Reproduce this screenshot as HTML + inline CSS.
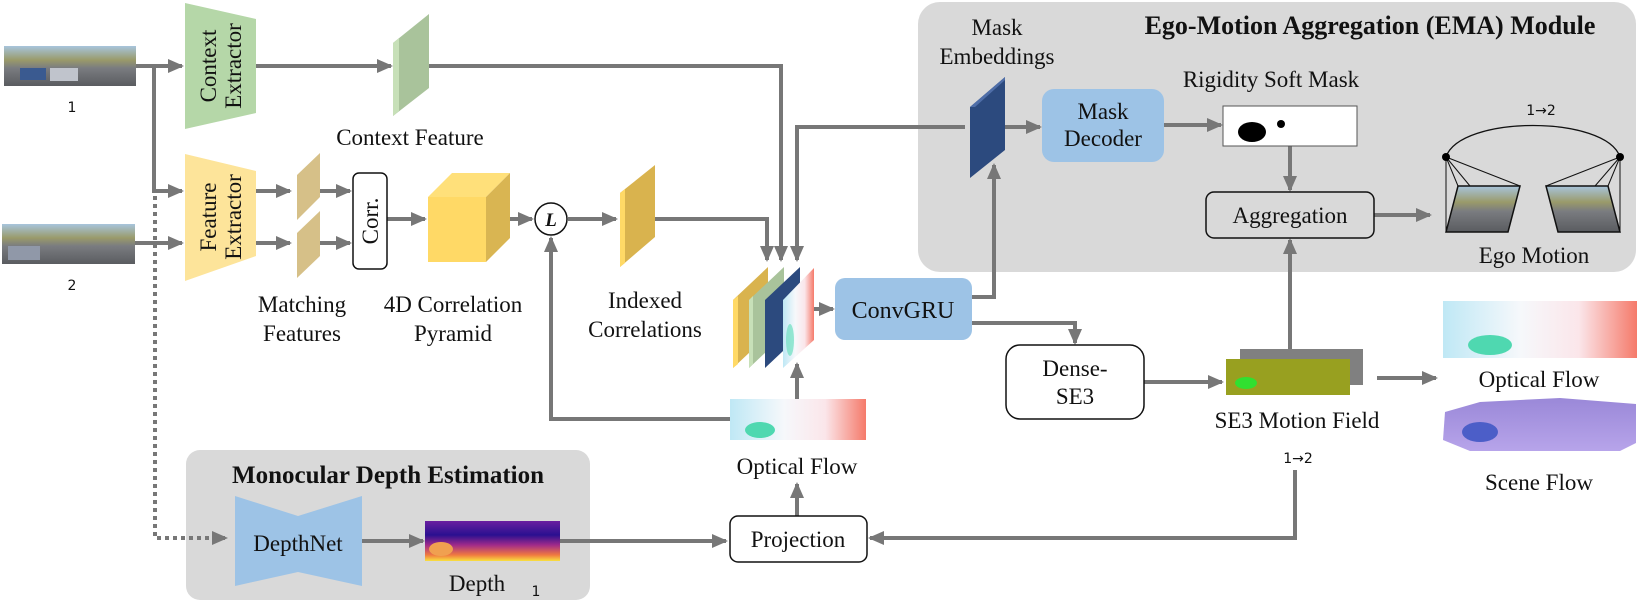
<!DOCTYPE html>
<html><head><meta charset="utf-8"><style>
html,body{margin:0;padding:0;background:#fff;}
svg{display:block;}
text{font-family:"Liberation Serif",serif;fill:#111;}
.s{font-family:"DejaVu Sans","Liberation Sans",sans-serif;}
</style></head><body>
<svg width="1637" height="602" viewBox="0 0 1637 602" xmlns="http://www.w3.org/2000/svg">
<defs>
<marker id="b" markerWidth="16" markerHeight="14" refX="14" refY="7" orient="auto" markerUnits="userSpaceOnUse">
<path d="M0,0 L16,7 L0,14 z" fill="#777"/></marker>
<linearGradient id="street" x1="0" y1="0" x2="0" y2="1">
<stop offset="0" stop-color="#a8c4dc"/><stop offset="0.35" stop-color="#9a9a6a"/><stop offset="0.55" stop-color="#7a7c80"/><stop offset="1" stop-color="#5a5c60"/></linearGradient>
<linearGradient id="flow" x1="0" y1="0" x2="1" y2="0">
<stop offset="0" stop-color="#bfe8f5"/><stop offset="0.4" stop-color="#f6f8fb"/><stop offset="0.7" stop-color="#fbe6ea"/><stop offset="1" stop-color="#f57a6a"/></linearGradient>
<linearGradient id="depth" x1="0" y1="0" x2="0" y2="1">
<stop offset="0" stop-color="#6a1fa0"/><stop offset="0.35" stop-color="#2a1090"/><stop offset="0.6" stop-color="#a02a8a"/><stop offset="0.85" stop-color="#f07a40"/><stop offset="1" stop-color="#f8e040"/></linearGradient>
<linearGradient id="scene" x1="0" y1="0" x2="0" y2="1">
<stop offset="0" stop-color="#9a88d8"/><stop offset="1" stop-color="#b7a4ea"/></linearGradient>
</defs>

<rect x="918" y="2" width="718" height="270" rx="22" fill="#d9d9d9"/>
<rect x="186" y="450" width="404" height="150" rx="14" fill="#d9d9d9"/>

<rect x="4" y="46" width="132" height="40" fill="url(#street)"/>
<rect x="20" y="68" width="26" height="12" fill="#3a5a90"/><rect x="50" y="68" width="28" height="13" fill="#c0c4cc"/>
<text class="s" x="72" y="112" font-size="14" text-anchor="middle">1</text>
<rect x="2" y="224" width="133" height="40" fill="url(#street)"/>
<rect x="8" y="246" width="32" height="14" fill="#9098a8"/>
<text class="s" x="72" y="290" font-size="14" text-anchor="middle">2</text>

<g stroke="#777" stroke-width="4" fill="none">
<polyline points="136,66 182,66" marker-end="url(#b)"/>
<polyline points="154,66 154,191 182,191" marker-end="url(#b)"/>
<polyline points="135,243 182,243" marker-end="url(#b)"/>
<polyline points="155,196 155,538 226,538" stroke-dasharray="4,4" marker-end="url(#b)"/>
</g>

<polygon points="185,3 256,19 256,113 185,129" fill="#b5d7a8"/>
<text font-size="23" transform="translate(220,66) rotate(-90)" text-anchor="middle"><tspan x="0" y="-4">Context</tspan><tspan x="0" y="21">Extractor</tspan></text>
<polygon points="185,154 256,171 256,256 185,281" fill="#fde49a"/>
<text font-size="23" transform="translate(220,217) rotate(-90)" text-anchor="middle"><tspan x="0" y="-4">Feature</tspan><tspan x="0" y="21">Extractor</tspan></text>

<g stroke="#777" stroke-width="4" fill="none">
<polyline points="256,66 391,66" marker-end="url(#b)"/>
<polyline points="423,66 781,66 781,260" marker-end="url(#b)"/>
</g>
<polygon points="393,43 429,14 429,88 393,116" fill="#a9c39b"/>
<polygon points="393,43 399,38 399,111 393,116" fill="#c7e0b8"/>
<text font-size="23" x="410" y="145" text-anchor="middle">Context Feature</text>

<g stroke="#777" stroke-width="4" fill="none">
<polyline points="256,191 290,191" marker-end="url(#b)"/>
<polyline points="256,243 290,243" marker-end="url(#b)"/>
<polyline points="320,191 350,191" marker-end="url(#b)"/>
<polyline points="320,243 350,243" marker-end="url(#b)"/>
<polyline points="387,219 425,219" marker-end="url(#b)"/>
<polyline points="510,219 532,219" marker-end="url(#b)"/>
<polyline points="568,219 616,219" marker-end="url(#b)"/>
<polyline points="652,219 767,219 767,260" marker-end="url(#b)"/>
<polyline points="730,419 551,419 551,238" marker-end="url(#b)"/>
</g>
<polygon points="297,175 320,153 320,197 297,220" fill="#d6c088"/>
<polygon points="297,233 320,211 320,256 297,278" fill="#d6c088"/>
<text font-size="23" x="302" y="312" text-anchor="middle">Matching</text>
<text font-size="23" x="302" y="341" text-anchor="middle">Features</text>
<rect x="353" y="173" width="34" height="96" rx="6" fill="#fff" stroke="#111" stroke-width="1.5"/>
<text font-size="23" transform="translate(378,221) rotate(-90)" text-anchor="middle">Corr.</text>

<polygon points="428,197 452,173 510,173 486,197" fill="#ffe07a"/>
<polygon points="486,197 510,173 510,238 486,262" fill="#d9b552"/>
<rect x="428" y="197" width="58" height="65" fill="#ffd966"/>
<text font-size="23" x="453" y="312" text-anchor="middle">4D Correlation</text>
<text font-size="23" x="453" y="341" text-anchor="middle">Pyramid</text>

<circle cx="551" cy="219" r="16" fill="#fff" stroke="#111" stroke-width="1.5"/>
<text x="551" y="226" font-size="19" font-weight="bold" font-style="italic" text-anchor="middle">L</text>

<polygon points="620,193 655,165 655,237 620,267" fill="#d9b34e"/>
<polygon points="620,193 625,189 625,263 620,267" fill="#ffd966"/>
<text font-size="23" x="645" y="308" text-anchor="middle">Indexed</text>
<text font-size="23" x="645" y="337" text-anchor="middle">Correlations</text>

<polygon points="733,300 768,267 768,335 733,368" fill="#d9b34e"/>
<polygon points="733,300 738,296 738,364 733,368" fill="#ffd966"/>
<polygon points="749,300 784,267 784,335 749,368" fill="#a9c39b"/>
<polygon points="749,300 753,296 753,364 749,368" fill="#c7e0b8"/>
<polygon points="765,300 800,267 800,335 765,368" fill="#2c4a7e"/>
<polygon points="783,300 814,268 814,340 783,368" fill="url(#flow)"/>
<ellipse cx="790" cy="340" rx="4" ry="16" fill="#6de0c0" opacity="0.7"/>

<g stroke="#777" stroke-width="4" fill="none">
<polyline points="965,127 797,127 797,260" marker-end="url(#b)"/>
<polyline points="814,309 833,309" marker-end="url(#b)"/>
<polyline points="797,399 797,364" marker-end="url(#b)"/>
<polyline points="972,297 994,297 994,165" marker-end="url(#b)"/>
<polyline points="972,323 1075,323 1075,343" marker-end="url(#b)"/>
<polyline points="1005,127 1040,127" marker-end="url(#b)"/>
<polyline points="1164,125 1221,125" marker-end="url(#b)"/>
<polyline points="1290,146 1290,190" marker-end="url(#b)"/>
<polyline points="1290,350 1290,240" marker-end="url(#b)"/>
<polyline points="1374,215 1430,215" marker-end="url(#b)"/>
<polyline points="1144,382 1222,382" marker-end="url(#b)"/>
<polyline points="1377,378 1436,378" marker-end="url(#b)"/>
<polyline points="362,541 423,541" marker-end="url(#b)"/>
<polyline points="560,541 726,541" marker-end="url(#b)"/>
<polyline points="797,516 797,484" marker-end="url(#b)"/>
<polyline points="1295,470 1295,538 870,538" marker-end="url(#b)"/>
</g>

<rect x="835" y="278" width="137" height="62" rx="10" fill="#9dc3e6"/>
<text font-size="24" x="903" y="318" text-anchor="middle">ConvGRU</text>

<rect x="730" y="399" width="136" height="41" fill="url(#flow)"/>
<ellipse cx="760" cy="430" rx="15" ry="8" fill="#4fd8b0"/>
<text font-size="23" x="797" y="474" text-anchor="middle">Optical Flow</text>

<polygon points="970,107 1005,77 1005,150 970,178" fill="#2c4a7e"/>
<polygon points="970,107 1005,77 1005,80 975,107" fill="#4f6ea8"/>
<text font-size="23" x="997" y="35" text-anchor="middle">Mask</text>
<text font-size="23" x="997" y="64" text-anchor="middle">Embeddings</text>
<text font-size="26" font-weight="bold" x="1370" y="34" text-anchor="middle">Ego-Motion Aggregation (EMA) Module</text>

<rect x="1042" y="89" width="122" height="73" rx="12" fill="#9dc3e6"/>
<text font-size="23" x="1103" y="119" text-anchor="middle">Mask</text>
<text font-size="23" x="1103" y="146" text-anchor="middle">Decoder</text>

<text font-size="23" x="1271" y="87" text-anchor="middle">Rigidity Soft Mask</text>
<rect x="1223" y="106" width="134" height="40" fill="#fff" stroke="#555" stroke-width="1"/>
<ellipse cx="1252" cy="132" rx="14" ry="10" fill="#000"/>
<circle cx="1281" cy="124" r="4" fill="#000"/>

<rect x="1206" y="192" width="168" height="46" rx="8" fill="none" stroke="#111" stroke-width="1.5"/>
<text font-size="23" x="1290" y="223" text-anchor="middle">Aggregation</text>

<path d="M1446,157 C1460,115 1606,115 1620,157" fill="none" stroke="#111" stroke-width="1.3"/>
<text class="s" font-size="14" x="1541" y="115" text-anchor="middle">1→2</text>
<g stroke="#111" stroke-width="1">
<line x1="1446" y1="157" x2="1446" y2="232"/><line x1="1446" y1="157" x2="1458" y2="186"/><line x1="1446" y1="157" x2="1470" y2="186"/><line x1="1446" y1="157" x2="1520" y2="186"/>
<line x1="1620" y1="157" x2="1620" y2="232"/><line x1="1620" y1="157" x2="1608" y2="186"/><line x1="1620" y1="157" x2="1595" y2="186"/><line x1="1620" y1="157" x2="1546" y2="186"/>
</g>
<polygon points="1458,186 1520,186 1508,232 1446,232" fill="url(#street)" stroke="#111" stroke-width="1.5"/>
<polygon points="1546,186 1608,186 1620,232 1558,232" fill="url(#street)" stroke="#111" stroke-width="1.5"/>
<circle cx="1446" cy="157" r="4" fill="#000"/><circle cx="1620" cy="157" r="4" fill="#000"/>
<text font-size="23" x="1534" y="263" text-anchor="middle">Ego Motion</text>

<rect x="1006" y="345" width="138" height="74" rx="14" fill="#fff" stroke="#111" stroke-width="1.5"/>
<text font-size="23" x="1075" y="376" text-anchor="middle">Dense-</text>
<text font-size="23" x="1075" y="404" text-anchor="middle">SE3</text>

<rect x="1240" y="349" width="123" height="36" fill="#808080"/>
<rect x="1226" y="359" width="124" height="36" fill="#98a020"/>
<ellipse cx="1246" cy="383" rx="11" ry="6" fill="#30e030"/>
<text font-size="23" x="1297" y="428" text-anchor="middle">SE3 Motion Field</text>
<text class="s" font-size="14" x="1298" y="463" text-anchor="middle">1→2</text>

<rect x="1443" y="301" width="194" height="57" fill="url(#flow)"/>
<ellipse cx="1490" cy="345" rx="22" ry="10" fill="#4fd8b0"/>
<text font-size="23" x="1539" y="387" text-anchor="middle">Optical Flow</text>
<polygon points="1445,412 1480,402 1560,398 1636,404 1636,443 1620,451 1470,451 1443,440" fill="url(#scene)"/>
<ellipse cx="1480" cy="432" rx="18" ry="10" fill="#4c5ec8"/>
<text font-size="23" x="1539" y="490" text-anchor="middle">Scene Flow</text>

<text font-size="25" font-weight="bold" x="388" y="483" text-anchor="middle">Monocular Depth Estimation</text>
<polygon points="235,496 298,516 362,496 362,586 298,572 235,586" fill="#9dc3e6"/>
<text font-size="23" x="298" y="551" text-anchor="middle">DepthNet</text>
<rect x="425" y="521" width="135" height="40" fill="url(#depth)"/>
<ellipse cx="441" cy="549" rx="12" ry="7" fill="#f0a050"/>
<text font-size="23" x="477" y="591" text-anchor="middle">Depth</text>
<text class="s" font-size="14" x="536" y="596" text-anchor="middle">1</text>

<rect x="730" y="516" width="137" height="46" rx="8" fill="#fff" stroke="#111" stroke-width="1.5"/>
<text font-size="23" x="798" y="547" text-anchor="middle">Projection</text>
</svg>
</body></html>
